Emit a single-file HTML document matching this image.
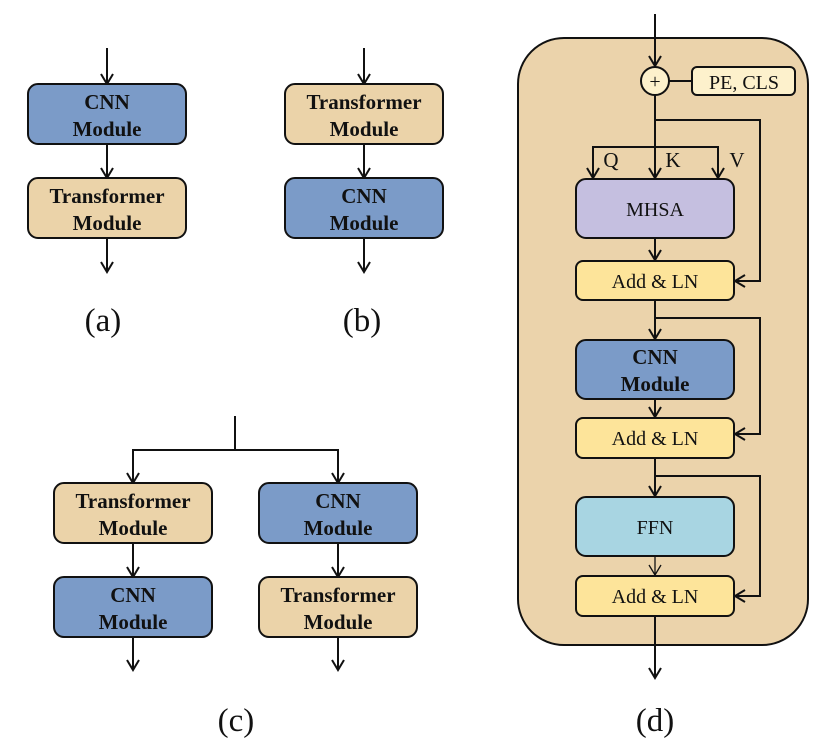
<!DOCTYPE html>
<html><head><meta charset="utf-8"><style>
html,body{margin:0;padding:0;background:#fff;width:826px;height:741px;overflow:hidden}
svg{display:block}
.b{font-family:"Liberation Serif",serif;font-weight:bold;font-size:21px;fill:#111;text-anchor:middle}
.r{font-family:"Liberation Serif",serif;font-size:20px;fill:#111;text-anchor:middle}
.l{font-family:"Liberation Serif",serif;font-size:33px;fill:#111;text-anchor:middle}
</style></head><body>
<svg width="826" height="741" viewBox="0 0 826 741">
<g stroke="#111" stroke-width="2" fill="none">
<!-- (a) -->
<line x1="107" y1="48" x2="107" y2="84"/><path d="M101,74 L107,84 L113,74"/>
<line x1="107" y1="144" x2="107" y2="178"/><path d="M101,168 L107,178 L113,168"/>
<line x1="107" y1="238" x2="107" y2="272"/><path d="M101,262 L107,272 L113,262"/>
<!-- (b) -->
<line x1="364" y1="48" x2="364" y2="84"/><path d="M358,74 L364,84 L370,74"/>
<line x1="364" y1="143" x2="364" y2="178"/><path d="M358,168 L364,178 L370,168"/>
<line x1="364" y1="238" x2="364" y2="272"/><path d="M358,262 L364,272 L370,262"/>
<!-- (c) -->
<line x1="235" y1="416" x2="235" y2="450"/>
<polyline points="133,483 133,450 338,450 338,483"/>
<path d="M127,473 L133,483 L139,473"/><path d="M332,473 L338,483 L344,473"/>
<line x1="133" y1="543" x2="133" y2="577"/><path d="M127,567 L133,577 L139,567"/>
<line x1="338" y1="543" x2="338" y2="577"/><path d="M332,567 L338,577 L344,567"/>
<line x1="133" y1="637" x2="133" y2="670"/><path d="M127,660 L133,670 L139,660"/>
<line x1="338" y1="637" x2="338" y2="670"/><path d="M332,660 L338,670 L344,660"/>
</g>
<g stroke="#111" stroke-width="2">
<rect x="28" y="84" width="158" height="60" rx="10" fill="#7b9bc8"/>
<rect x="28" y="178" width="158" height="60" rx="10" fill="#ebd3a9"/>
<rect x="285" y="84" width="158" height="60" rx="10" fill="#ebd3a9"/>
<rect x="285" y="178" width="158" height="60" rx="10" fill="#7b9bc8"/>
<rect x="54" y="483" width="158" height="60" rx="10" fill="#ebd3a9"/>
<rect x="54" y="577" width="158" height="60" rx="10" fill="#7b9bc8"/>
<rect x="259" y="483" width="158" height="60" rx="10" fill="#7b9bc8"/>
<rect x="259" y="577" width="158" height="60" rx="10" fill="#ebd3a9"/>
</g>
<text class="b" x="107" y="109">CNN</text><text class="b" x="107" y="136">Module</text>
<text class="b" x="107" y="203">Transformer</text><text class="b" x="107" y="230">Module</text>
<text class="b" x="364" y="109">Transformer</text><text class="b" x="364" y="136">Module</text>
<text class="b" x="364" y="203">CNN</text><text class="b" x="364" y="230">Module</text>
<text class="b" x="133" y="508">Transformer</text><text class="b" x="133" y="535">Module</text>
<text class="b" x="133" y="602">CNN</text><text class="b" x="133" y="629">Module</text>
<text class="b" x="338" y="508">CNN</text><text class="b" x="338" y="535">Module</text>
<text class="b" x="338" y="602">Transformer</text><text class="b" x="338" y="629">Module</text>
<text class="l" x="103" y="331">(a)</text>
<text class="l" x="362" y="331">(b)</text>
<text class="l" x="236" y="731">(c)</text>
<text class="l" x="655" y="731">(d)</text>

<!-- (d) -->
<rect x="518" y="38" width="290" height="607" rx="46" fill="#ebd3ab" stroke="#111" stroke-width="2"/>
<g stroke="#111" stroke-width="2" fill="none">
<line x1="655" y1="14" x2="655" y2="66"/><path d="M649,56 L655,66 L661,56"/>
<line x1="669" y1="81" x2="692" y2="81"/>
<line x1="655" y1="95" x2="655" y2="178"/><path d="M649,168 L655,178 L661,168"/>
<polyline points="593,178 593,147 718,147 718,178"/>
<path d="M587,168 L593,178 L599,168"/><path d="M712,168 L718,178 L724,168"/>
<polyline points="655,120 760,120 760,281 735,281"/><path d="M745,275 L735,281 L745,287"/>
<line x1="655" y1="238" x2="655" y2="260"/><path d="M649,250 L655,260 L661,250"/>
<line x1="655" y1="300" x2="655" y2="339"/><path d="M649,329 L655,339 L661,329"/>
<polyline points="655,318 760,318 760,434 735,434"/><path d="M745,428 L735,434 L745,440"/>
<line x1="655" y1="399" x2="655" y2="417"/><path d="M649,407 L655,417 L661,407"/>
<line x1="655" y1="458" x2="655" y2="496"/><path d="M649,486 L655,496 L661,486"/>
<polyline points="655,476 760,476 760,596 735,596"/><path d="M745,590 L735,596 L745,602"/>
<g stroke-width="1.3"><line x1="655" y1="556" x2="655" y2="575"/><path d="M649,565 L655,575 L661,565"/></g>
<line x1="655" y1="616" x2="655" y2="678"/><path d="M649,668 L655,678 L661,668"/>
</g>
<g stroke="#111" stroke-width="2">
<circle cx="655" cy="81" r="14" fill="#fdf1cc"/>
<rect x="692" y="67" width="103" height="28" rx="5" fill="#fdf1cc"/>
<rect x="576" y="179" width="158" height="59" rx="10" fill="#c5bfe0"/>
<rect x="576" y="261" width="158" height="39" rx="7" fill="#fde49a"/>
<rect x="576" y="340" width="158" height="59" rx="10" fill="#7b9bc8"/>
<rect x="576" y="418" width="158" height="40" rx="7" fill="#fde49a"/>
<rect x="576" y="497" width="158" height="59" rx="10" fill="#a8d5e2"/>
<rect x="576" y="576" width="158" height="40" rx="7" fill="#fde49a"/>
</g>
<text class="r" x="655" y="88">+</text>
<text class="r" x="744" y="89">PE, CLS</text>
<text class="r" x="611" y="167" style="font-size:21px">Q</text>
<text class="r" x="673" y="167" style="font-size:21px">K</text>
<text class="r" x="737" y="167" style="font-size:21px">V</text>
<text class="r" x="655" y="216">MHSA</text>
<text class="r" x="655" y="288">Add &amp; LN</text>
<text class="b" x="655" y="364">CNN</text><text class="b" x="655" y="391">Module</text>
<text class="r" x="655" y="445">Add &amp; LN</text>
<text class="r" x="655" y="534">FFN</text>
<text class="r" x="655" y="603">Add &amp; LN</text>
</svg>
</body></html>
